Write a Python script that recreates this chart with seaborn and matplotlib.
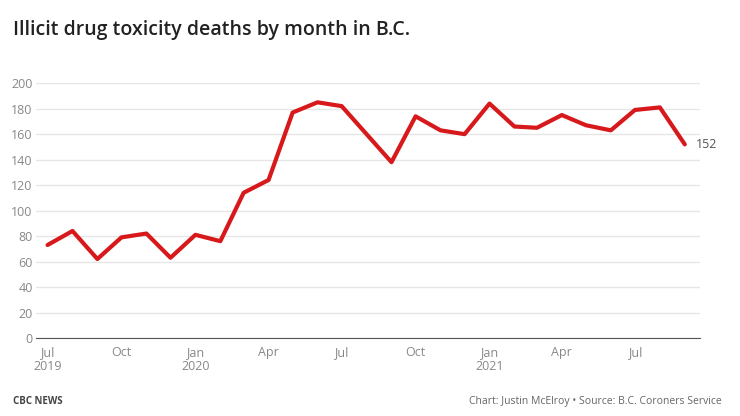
import pandas as pd
import matplotlib
matplotlib.use("Agg")
import matplotlib.pyplot as plt
import seaborn as sns

months = pd.date_range("2019-07-01", "2021-09-01", freq="MS")
deaths = [73, 84, 62, 79, 82, 63, 81, 76, 114, 124, 177, 185, 182, 160, 138,
          174, 163, 160, 184, 166, 165, 175, 167, 163, 179, 181, 152]
tick_dates = pd.to_datetime(["2019-07-01", "2019-10-01", "2020-01-01", "2020-04-01",
                             "2020-07-01", "2020-10-01", "2021-01-01", "2021-04-01",
                             "2021-07-01"])
tick_labels = ["Jul\n2019", "Oct", "Jan\n2020", "Apr", "Jul", "Oct", "Jan\n2021", "Apr", "Jul"]

df = pd.DataFrame({"month": months, "deaths": deaths})

sns.set_style("white")
plt.rcParams['font.family'] = ['Open Sans', 'DejaVu Sans']
fig, ax = plt.subplots(figsize=(7.4, 4.16), dpi=100)
fig.subplots_adjust(left=0.048, right=0.946, top=0.80, bottom=0.1875)

sns.lineplot(data=df, x="month", y="deaths", ax=ax, color="#d7191c", linewidth=3)
ax.set_ylim(0, 200)
ax.set_yticks(range(0, 201, 20))
ax.grid(axis="y", color="#e6e6e6", linewidth=1)
ax.set_xlim(pd.Timestamp("2019-06-16"), pd.Timestamp("2021-09-20"))
ax.set_xticks(tick_dates)
ax.set_xticklabels(tick_labels, ha="center", linespacing=1.1)
ax.tick_params(colors="#888888", labelsize=9, length=0, pad=2)
ax.tick_params(axis="x", length=4, color="#555555")
for s in ["top", "right", "left"]:
    ax.spines[s].set_visible(False)
ax.spines["bottom"].set_color("#555555")
ax.set_xlabel("")
ax.set_ylabel("")
ax.text(months[-1] + pd.Timedelta(days=14), deaths[-1], str(deaths[-1]),
        va="center", fontsize=9, color="#555555")

fig.text(0.018, 0.928, "Illicit drug toxicity deaths by month in B.C.", fontsize=14,
         fontweight="semibold", color="#222222", va="center")
fig.text(0.018, 0.028, "CBC NEWS", fontsize=7, fontweight="bold", color="#444444")
fig.text(0.975, 0.028, "Chart: Justin McElroy • Source: B.C. Coroners Service", fontsize=7.5,
         color="#666666", ha="right")

fig.savefig("out.png")
